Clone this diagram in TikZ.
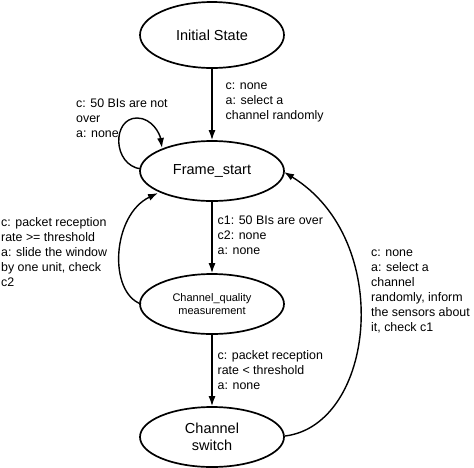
\documentclass[tikz,border=0pt]{standalone}
\usepackage{fontspec}
\setmainfont{Liberation Sans}
\usetikzlibrary{shapes.geometric,arrows.meta}

\tikzset{
  state/.style={ellipse,draw,line width=1.7pt,inner sep=0pt,align=center,
    minimum width=144pt,minimum height=60pt,font=\fontsize{14.5}{17}\selectfont},
  lbl/.style={inner sep=0pt,align=left,font=\fontsize{12.4}{15}\selectfont},
  trans/.style={draw,line width=1.4pt,-{Latex[length=10pt,width=7pt]}}
}

\begin{document}
\begin{tikzpicture}[x=1pt,y=-1pt]
        \useasboundingbox (0,0) rectangle (474,467);

        \begin{scope}[every node/.style={state}]
          \node (init)  at (212,35)  [minimum height=66pt] {Initial State};
          \node (fs)    at (212,171) {Frame\_start};
          \node (cq)    at (212,304) [font=\fontsize{11}{12.5}\selectfont] {Channel\_quality\\measurement};
          \node (cs)    at (212,437) {Channel\\switch};
        \end{scope}

        \begin{scope}[every edge/.style={trans}]
          \path (init) edge node[lbl,anchor=west,xshift=13pt,yshift=2pt] (lbla)
            {c: none\\a: select a\\channel randomly} (fs);
          \path (fs) edge node[lbl,anchor=west,xshift=5pt,yshift=2pt] (lblb)
            {c1: 50 BIs are over\\c2: none\\a: none} (cq);
          \path (cq) edge node[lbl,anchor=west,xshift=5pt] (lblc)
            {c: packet reception\\rate < threshold\\a: none} (cs);
        \end{scope}

        % self loop on frame start
        \coordinate (loopa) at (141,169);
        \coordinate (looptop) at (137,118);
        \coordinate (loopb) at (162,148);
        \draw[trans] (loopa) .. controls (112,165) and (112,118) .. (looptop)
          .. controls (152,118) and (160,134) .. (loopb);
        \node[lbl,anchor=north west] (lbld) at (76,99) {c: 50 BIs are not\\over\\a: none};

        % back to frame start
        \coordinate (cqw) at (141,304);
        \coordinate (fssw) at (158,193);
        \draw[trans] (cqw) .. controls (108,292) and (112,215) .. (fssw);
        \node[lbl,anchor=north west] (lble) at (1,217)
          {c: packet reception\\rate >= threshold\\a: slide the window\\by one unit, check\\c2};

        \coordinate (cse) at (285,436);
        \coordinate (fse) at (284,172);
        \draw[trans] (cse) .. controls (375,425) and (395,240) .. (fse);
        \node[lbl,anchor=north west] (lblf) at (371,250)
          {c: none\\a: select a\\channel\\randomly, inform\\the sensors about\\it, check c1};

      \end{tikzpicture}
\end{document}
